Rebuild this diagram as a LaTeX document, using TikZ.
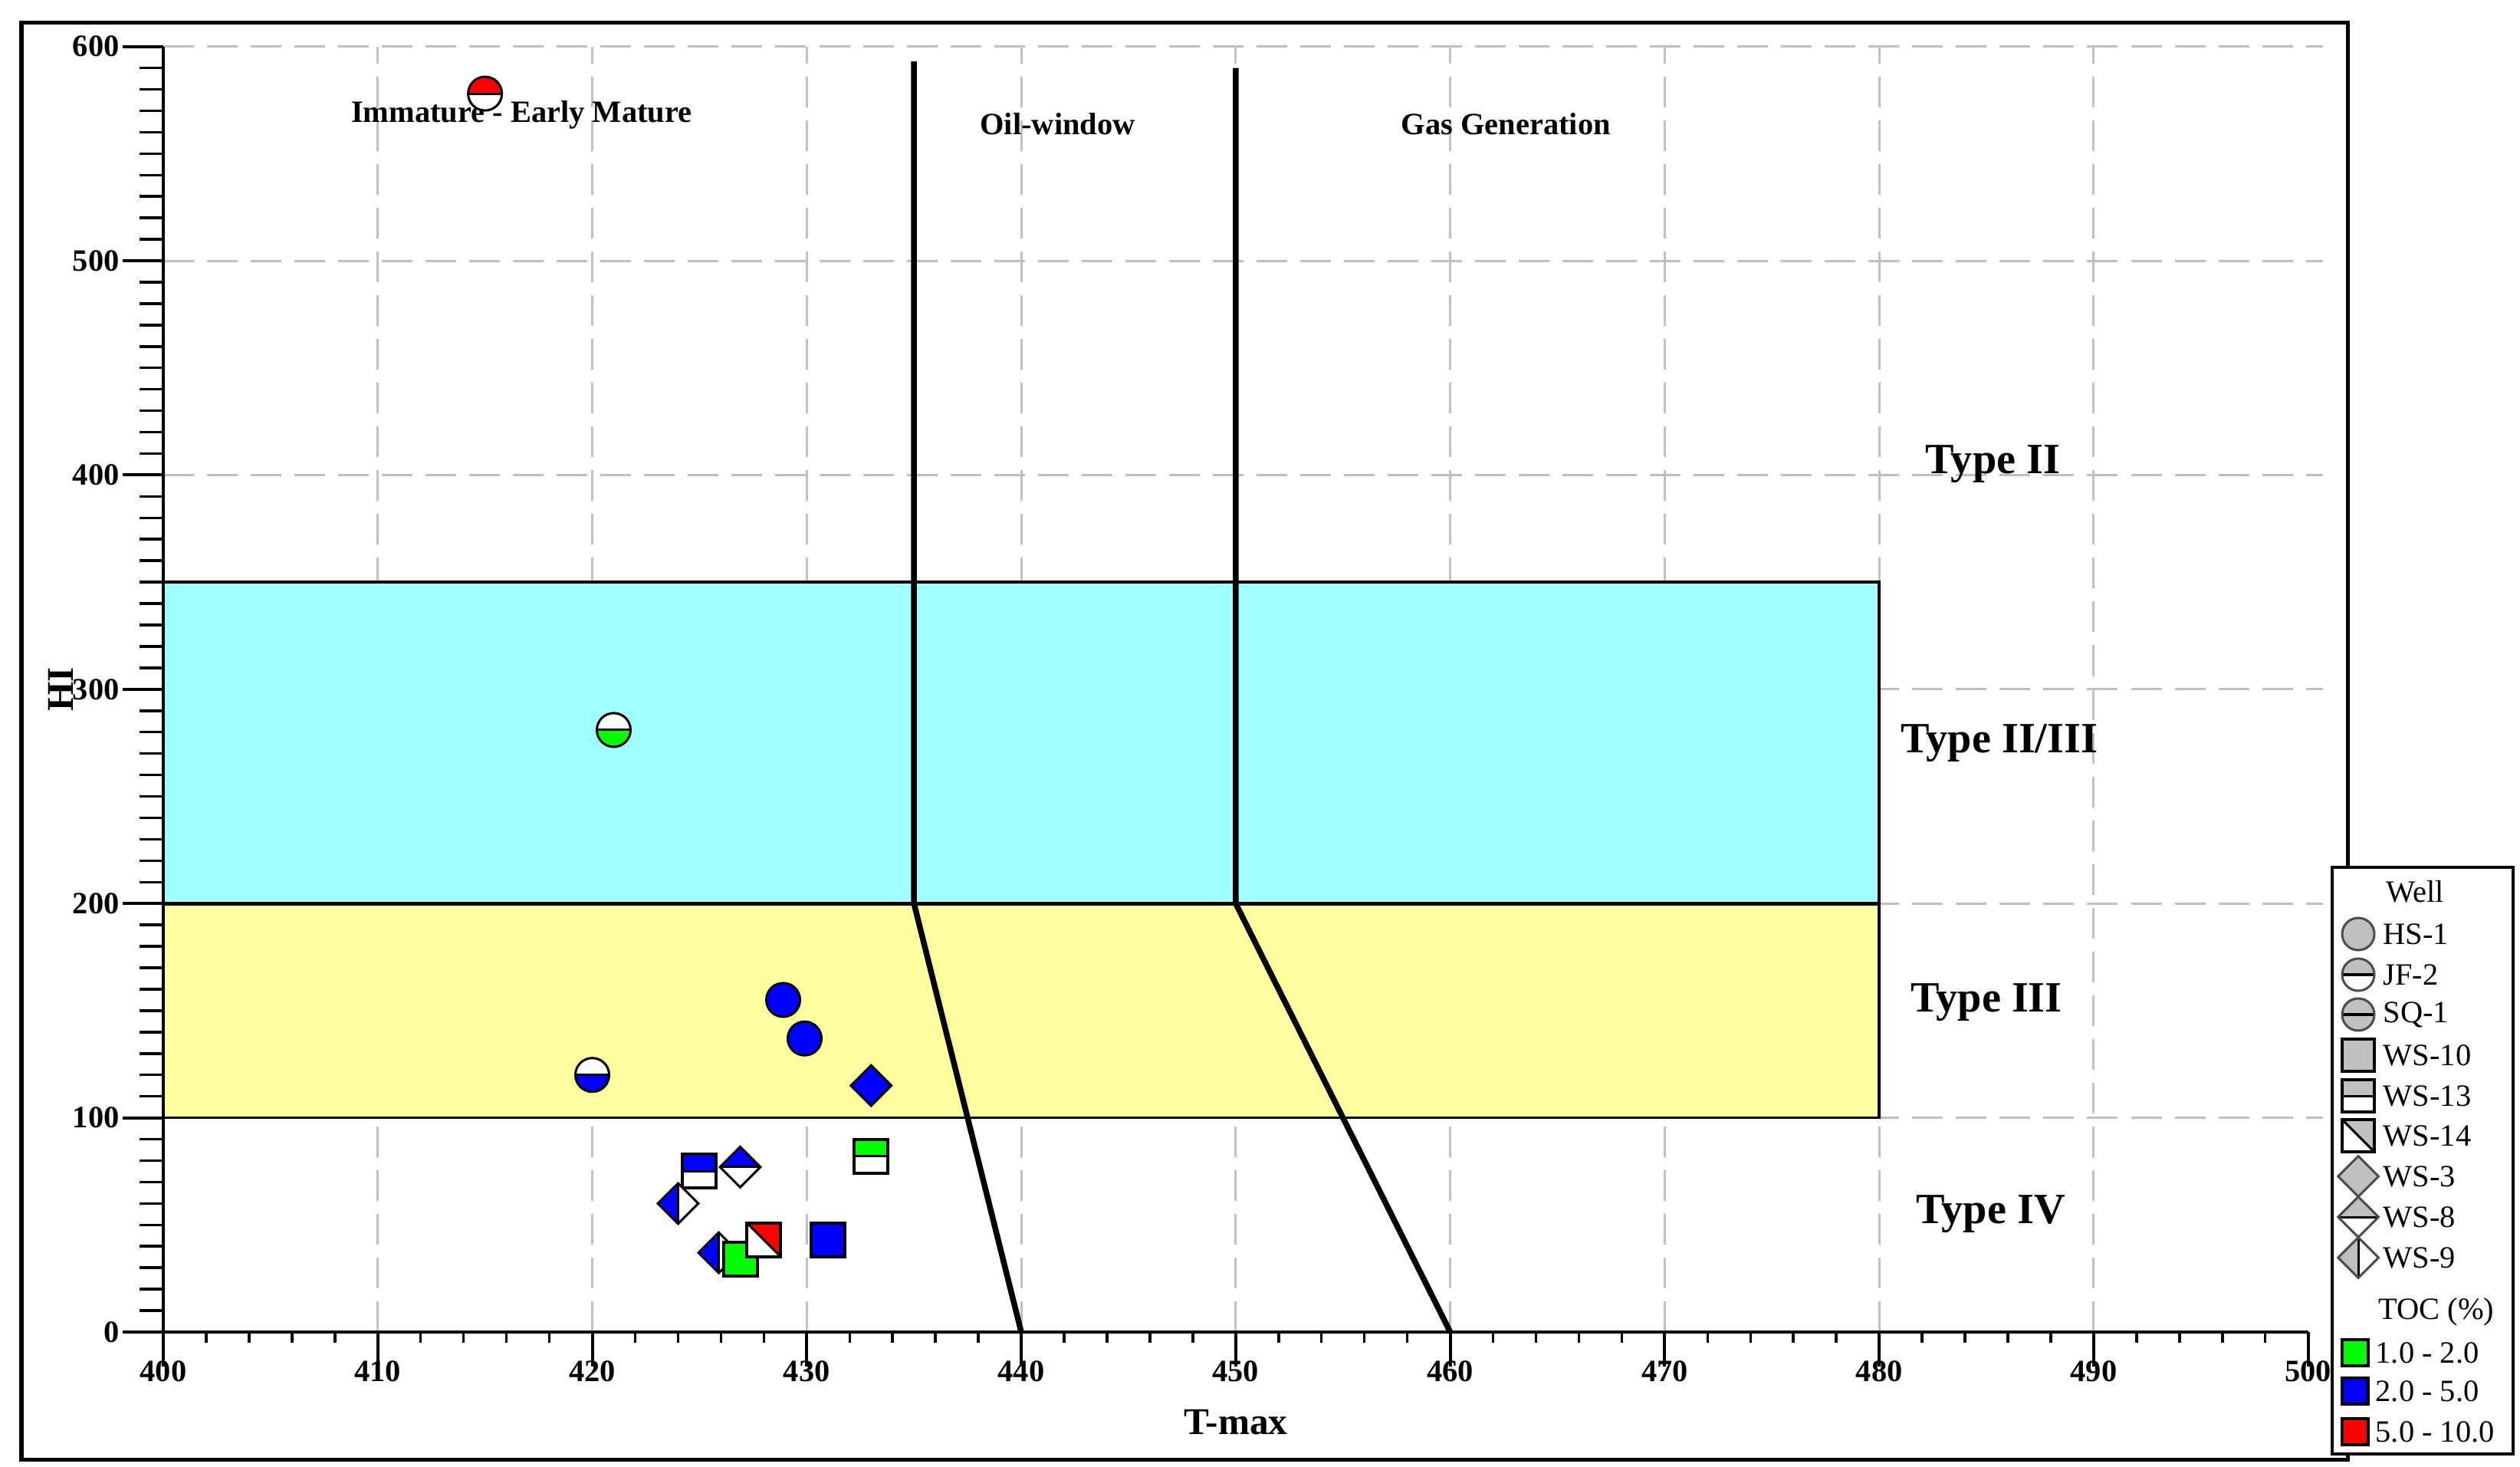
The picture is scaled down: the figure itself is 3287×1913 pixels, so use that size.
\documentclass[tikz,border=0pt]{standalone}
\usepackage{fontspec}
\setmainfont{Liberation Serif}
\usetikzlibrary{shapes.geometric}
\definecolor{cyanbox}{HTML}{A0FFFF}
\definecolor{yelbox}{HTML}{FFFFA0}
\definecolor{gridgray}{HTML}{C0C0C0}
\definecolor{mkgray}{HTML}{C0C0C0}
\definecolor{mgreen}{HTML}{00FF00}
\definecolor{mblue}{HTML}{0000FF}
\definecolor{mred}{HTML}{FF0000}
\tikzset{
  gridline/.style={draw=gridgray,line width=0.3mm,dash pattern=on 4mm off 1.7mm},
  bigline/.style={line width=0.75mm,black},
  circmark/.style={circle,draw=black,line width=0.3mm,minimum size=4.4mm,inner sep=0pt},
  sqmark/.style={rectangle,draw=black,line width=0.4mm,minimum size=4.4mm,inner sep=0pt},
  dmmark/.style={diamond,draw=black,line width=0.3mm,minimum size=5.4mm,inner sep=0pt},
  tophalf/.style={path picture={\fill[#1] (path picture bounding box.north west) rectangle (path picture bounding box.east);
     \draw[black,line width=0.3mm] (path picture bounding box.west) -- (path picture bounding box.east);}},
  lefthalf/.style={path picture={\fill[#1] (path picture bounding box.north west) rectangle (path picture bounding box.south);
     \draw[black,line width=0.3mm] (path picture bounding box.north) -- (path picture bounding box.south);}},
  diaghalf/.style={path picture={\fill[#1] (path picture bounding box.north west) -- (path picture bounding box.north east) -- (path picture bounding box.south east) -- cycle;
     \draw[black,line width=0.3mm] (path picture bounding box.north west) -- (path picture bounding box.south east);}},
  ticklab/.style={font=\bfseries\fontsize{11.5}{12}\selectfont,inner sep=1pt},
  zonelab/.style={font=\bfseries\fontsize{11.5}{12}\selectfont},
  typelab/.style={font=\bfseries\fontsize{16}{17}\selectfont},
  leglab/.style={font=\fontsize{11.5}{12}\selectfont,anchor=west,inner sep=0pt},
}
\begin{document}
\begin{tikzpicture}[x=0.01cm,y=-0.01cm]
\useasboundingbox (0,0) rectangle (3287,1913);
\fill[white] (0,0) rectangle (3287,1913);
\draw[line width=0.5mm] (28,30) rectangle (3062,1903);
\begin{scope}[shift={(213,1737)},x={(0.2796cm,0)},y={(0,0.02792cm)}]
  % grid
  \foreach \g in {10,20,...,90} \draw[gridline] (\g,0) -- (\g,600);
  \foreach \h in {100,200,...,600} \draw[gridline] (0,\h) -- (100.7,\h);
  % zones
  \fill[cyanbox] (0,200) rectangle (80,350);
  \fill[yelbox] (0,100) rectangle (80,200);
  \draw[line width=0.35mm] (0,100) rectangle (80,350);
  \draw[line width=0.5mm] (0,200) -- (80,200);
  % maturity lines
  \coordinate (a1) at (35,593); \coordinate (a2) at (35,200); \coordinate (a3) at (40,0);
  \coordinate (b1) at (50,590); \coordinate (b2) at (50,200); \coordinate (b3) at (60,0);
  \draw[bigline] (a1) -- (a2) -- (a3);
  \draw[bigline] (b1) -- (b2) -- (b3);
  % axes
  \draw[line width=0.45mm] (0,600) -- (0,0) -- (100,0);
  \foreach \t in {2,4,...,98} \draw[line width=0.35mm] (\t,0) -- ++(0,-5);
  \foreach \t in {0,10,...,100} {\draw[line width=0.4mm] (\t,0) -- ++(0,-16);
     \pgfmathtruncatemacro{\lab}{400+\t}
     \node[ticklab,anchor=north] (xl\t) at (\t,-12) {\lab};}
  \foreach \h in {10,20,...,590} \draw[line width=0.35mm] (0,\h) -- ++(-1.1,0);
  \foreach \h in {0,100,...,600} {\draw[line width=0.4mm] (0,\h) -- ++(-1.9,0);
     \node[ticklab,anchor=east] (yl\h) at (-1.9,\h) {\h};}
  % labels
  \node[zonelab] (imm) at (16.7,568) {Immature - Early Mature};
  \node[zonelab] (oil) at (41.7,564) {Oil-window};
  \node[zonelab] (gas) at (62.6,564) {Gas Generation};
  \node[typelab] (t2) at (85.3,405) {Type II};
  \node[typelab] (t23) at (85.6,275) {Type II/III};
  \node[typelab] (t3) at (85,154) {Type III};
  \node[typelab] (t4) at (85.2,55) {Type IV};
  \node[font=\bfseries\fontsize{14}{15}\selectfont] (xt) at (50,-42) {T-max};
  \node[font=\bfseries\fontsize{14}{15}\selectfont,rotate=90] (yt) at (-4.76,300) {HI};
  % data
  \node[circmark,fill=white,tophalf=mred] (p1) at (15,578) {};
  \node[circmark,fill=mgreen,tophalf=white] (p2) at (21,281) {};
  \node[circmark,fill=mblue,tophalf=white] (p3) at (20,120) {};
  \node[circmark,fill=mblue] (p4) at (28.9,155) {};
  \node[circmark,fill=mblue] (p5) at (29.9,137) {};
  \node[dmmark,fill=mblue] (p6) at (33,115) {};
  \node[sqmark,fill=white,tophalf=mblue] (p7) at (25,75) {};
  \node[dmmark,fill=white,tophalf=mblue] (p8) at (26.9,77) {};
  \node[dmmark,fill=white,lefthalf=mblue] (p9) at (24,60) {};
  \node[dmmark,fill=white,lefthalf=mblue] (p10) at (25.9,37) {};
  \node[sqmark,fill=mgreen] (p11) at (26.9,34) {};
  \node[sqmark,fill=white,diaghalf=mred] (p12) at (28,43) {};
  \node[sqmark,fill=mblue] (p13) at (31,43) {};
  \node[sqmark,fill=white,tophalf=mgreen] (p14) at (33,82) {};
\end{scope}
% legend
\draw[line width=0.45mm,fill=white] (3042,1131) rectangle (3278,1896);
\node[font=\fontsize{11.5}{12}\selectfont] (lw) at (3150,1163) {Well};
\node[circmark,fill=mkgray,minimum size=4.2mm,draw=black!70] (m1) at (3076,1218) {};
\node[circmark,fill=white,tophalf=mkgray,minimum size=4.2mm,draw=black!70] (m2) at (3076,1271) {};
\node[circmark,fill=mkgray,tophalf=mkgray,minimum size=4.2mm,draw=black!70] (m3) at (3076,1323) {};
\node[sqmark,fill=mkgray,minimum size=4.2mm] (m4) at (3076,1376) {};
\node[sqmark,fill=white,tophalf=mkgray,minimum size=4.2mm] (m5) at (3076,1429) {};
\node[sqmark,fill=white,diaghalf=mkgray,minimum size=4.2mm] (m6) at (3076,1481) {};
\node[dmmark,fill=mkgray,draw=black!70] (m7) at (3076,1534) {};
\node[dmmark,fill=white,tophalf=mkgray,draw=black!70] (m8) at (3076,1587) {};
\node[dmmark,fill=white,lefthalf=mkgray,draw=black!70] (m9) at (3076,1640) {};
\foreach \n/\t/\y in {1/HS-1/1218,2/JF-2/1271,3/SQ-1/1323,4/WS-10/1376,5/WS-13/1429,6/WS-14/1481,7/WS-3/1534,8/WS-8/1587,9/WS-9/1640}
  \node[leglab] (lt\n) at (3108,\y) {\t};
\node[font=\fontsize{11.5}{12}\selectfont] (lt) at (3178,1711) {TOC (\%)};
\node[sqmark,fill=mgreen,minimum size=3.4mm] (c1) at (3072,1764) {};
\node[sqmark,fill=mblue,minimum size=3.4mm] (c2) at (3072,1814) {};
\node[sqmark,fill=mred,minimum size=3.4mm] (c3) at (3072,1867) {};
\node[leglab] (ct1) at (3098,1764) {1.0 - 2.0};
\node[leglab] (ct2) at (3098,1814) {2.0 - 5.0};
\node[leglab] (ct3) at (3098,1867) {5.0 - 10.0};
\end{tikzpicture}
\end{document}
